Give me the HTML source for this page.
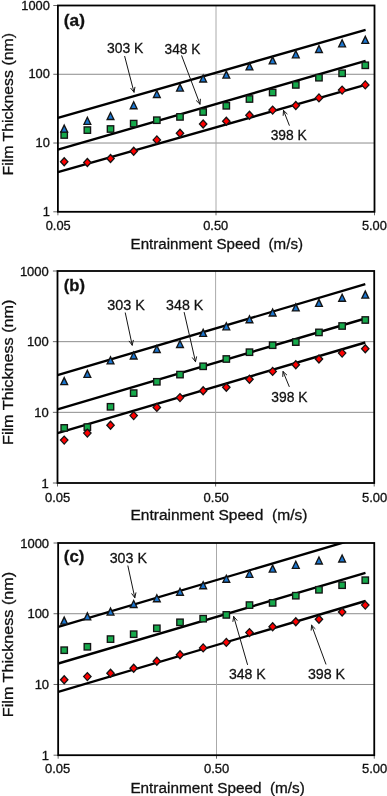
<!DOCTYPE html>
<html lang="en"><head><meta charset="utf-8"><title>Film thickness vs entrainment speed</title>
<style>html,body{margin:0;padding:0;background:#fff}svg{display:block}text{stroke:#111;stroke-width:.3px}</style></head>
<body>
<svg width="387" height="796" viewBox="0 0 387 796" font-family="'Liberation Sans', sans-serif" fill="#111">
<rect x="0" y="0" width="387" height="796" fill="#fff"/>
<g id="chart-a">
<line x1="57.9" y1="74.27" x2="374.5" y2="74.27" stroke="#8c8c8c" stroke-width="1"/>
<line x1="57.9" y1="143.03" x2="374.5" y2="143.03" stroke="#8c8c8c" stroke-width="1"/>
<line x1="216" y1="5.5" x2="216" y2="211.8" stroke="#aaaaaa" stroke-width="1"/>
<line x1="53.3" y1="5.50" x2="57.9" y2="5.50" stroke="#555" stroke-width="0.9"/>
<line x1="53.3" y1="74.27" x2="57.9" y2="74.27" stroke="#555" stroke-width="0.9"/>
<line x1="53.3" y1="143.03" x2="57.9" y2="143.03" stroke="#555" stroke-width="0.9"/>
<line x1="53.3" y1="211.80" x2="57.9" y2="211.80" stroke="#555" stroke-width="0.9"/>
<line x1="57.9" y1="211.8" x2="57.9" y2="215.3" stroke="#555" stroke-width="0.9"/>
<line x1="216" y1="211.8" x2="216" y2="215.3" stroke="#555" stroke-width="0.9"/>
<line x1="374.5" y1="211.8" x2="374.5" y2="215.3" stroke="#555" stroke-width="0.9"/>
<clipPath id="clip-a"><rect x="57.9" y="5.5" width="316.6" height="206.3"/></clipPath>
<g clip-path="url(#clip-a)">
<line x1="57.9" y1="117.9" x2="365.6" y2="29.9" stroke="#000" stroke-width="2.35"/>
<line x1="57.9" y1="149.6" x2="365.6" y2="60.9" stroke="#000" stroke-width="2.35"/>
<line x1="57.9" y1="172.2" x2="365.4" y2="84.9" stroke="#000" stroke-width="2.35"/>
</g>
<rect x="57.9" y="5.5" width="316.6" height="206.3" fill="none" stroke="#000" stroke-width="1.8"/>
<rect x="61.00" y="131.80" width="6.4" height="6.4" fill="#16a94b" stroke="#141414" stroke-width="1.35"/>
<rect x="84.16" y="126.90" width="6.4" height="6.4" fill="#16a94b" stroke="#141414" stroke-width="1.35"/>
<rect x="107.32" y="125.80" width="6.4" height="6.4" fill="#16a94b" stroke="#141414" stroke-width="1.35"/>
<rect x="130.48" y="120.40" width="6.4" height="6.4" fill="#16a94b" stroke="#141414" stroke-width="1.35"/>
<rect x="153.64" y="117.00" width="6.4" height="6.4" fill="#16a94b" stroke="#141414" stroke-width="1.35"/>
<rect x="176.80" y="113.70" width="6.4" height="6.4" fill="#16a94b" stroke="#141414" stroke-width="1.35"/>
<rect x="199.96" y="108.80" width="6.4" height="6.4" fill="#16a94b" stroke="#141414" stroke-width="1.35"/>
<rect x="223.12" y="102.60" width="6.4" height="6.4" fill="#16a94b" stroke="#141414" stroke-width="1.35"/>
<rect x="246.28" y="95.80" width="6.4" height="6.4" fill="#16a94b" stroke="#141414" stroke-width="1.35"/>
<rect x="269.44" y="89.30" width="6.4" height="6.4" fill="#16a94b" stroke="#141414" stroke-width="1.35"/>
<rect x="292.60" y="81.70" width="6.4" height="6.4" fill="#16a94b" stroke="#141414" stroke-width="1.35"/>
<rect x="315.76" y="74.50" width="6.4" height="6.4" fill="#16a94b" stroke="#141414" stroke-width="1.35"/>
<rect x="338.92" y="70.10" width="6.4" height="6.4" fill="#16a94b" stroke="#141414" stroke-width="1.35"/>
<rect x="362.08" y="62.10" width="6.4" height="6.4" fill="#16a94b" stroke="#141414" stroke-width="1.35"/>
<polygon points="64.20,125.10 67.60,132.10 60.80,132.10" fill="#1b76d0" stroke="#141414" stroke-width="1.35" stroke-linejoin="miter"/>
<polygon points="87.36,117.30 90.76,124.30 83.96,124.30" fill="#1b76d0" stroke="#141414" stroke-width="1.35" stroke-linejoin="miter"/>
<polygon points="110.52,112.50 113.92,119.50 107.12,119.50" fill="#1b76d0" stroke="#141414" stroke-width="1.35" stroke-linejoin="miter"/>
<polygon points="133.68,101.70 137.08,108.70 130.28,108.70" fill="#1b76d0" stroke="#141414" stroke-width="1.35" stroke-linejoin="miter"/>
<polygon points="156.84,90.50 160.24,97.50 153.44,97.50" fill="#1b76d0" stroke="#141414" stroke-width="1.35" stroke-linejoin="miter"/>
<polygon points="180.00,84.10 183.40,91.10 176.60,91.10" fill="#1b76d0" stroke="#141414" stroke-width="1.35" stroke-linejoin="miter"/>
<polygon points="203.16,75.00 206.56,82.00 199.76,82.00" fill="#1b76d0" stroke="#141414" stroke-width="1.35" stroke-linejoin="miter"/>
<polygon points="226.32,71.10 229.72,78.10 222.92,78.10" fill="#1b76d0" stroke="#141414" stroke-width="1.35" stroke-linejoin="miter"/>
<polygon points="249.48,62.90 252.88,69.90 246.08,69.90" fill="#1b76d0" stroke="#141414" stroke-width="1.35" stroke-linejoin="miter"/>
<polygon points="272.64,56.90 276.04,63.90 269.24,63.90" fill="#1b76d0" stroke="#141414" stroke-width="1.35" stroke-linejoin="miter"/>
<polygon points="295.80,50.80 299.20,57.80 292.40,57.80" fill="#1b76d0" stroke="#141414" stroke-width="1.35" stroke-linejoin="miter"/>
<polygon points="318.96,45.50 322.36,52.50 315.56,52.50" fill="#1b76d0" stroke="#141414" stroke-width="1.35" stroke-linejoin="miter"/>
<polygon points="342.12,39.80 345.52,46.80 338.72,46.80" fill="#1b76d0" stroke="#141414" stroke-width="1.35" stroke-linejoin="miter"/>
<polygon points="365.28,36.40 368.68,43.40 361.88,43.40" fill="#1b76d0" stroke="#141414" stroke-width="1.35" stroke-linejoin="miter"/>
<polygon points="64.20,157.70 67.90,161.70 64.20,165.70 60.50,161.70" fill="#ff0000" stroke="#141414" stroke-width="1.3"/>
<polygon points="87.36,158.50 91.06,162.50 87.36,166.50 83.66,162.50" fill="#ff0000" stroke="#141414" stroke-width="1.3"/>
<polygon points="110.52,154.50 114.22,158.50 110.52,162.50 106.82,158.50" fill="#ff0000" stroke="#141414" stroke-width="1.3"/>
<polygon points="133.68,147.20 137.38,151.20 133.68,155.20 129.98,151.20" fill="#ff0000" stroke="#141414" stroke-width="1.3"/>
<polygon points="156.84,135.90 160.54,139.90 156.84,143.90 153.14,139.90" fill="#ff0000" stroke="#141414" stroke-width="1.3"/>
<polygon points="180.00,129.20 183.70,133.20 180.00,137.20 176.30,133.20" fill="#ff0000" stroke="#141414" stroke-width="1.3"/>
<polygon points="203.16,120.00 206.86,124.00 203.16,128.00 199.46,124.00" fill="#ff0000" stroke="#141414" stroke-width="1.3"/>
<polygon points="226.32,117.30 230.02,121.30 226.32,125.30 222.62,121.30" fill="#ff0000" stroke="#141414" stroke-width="1.3"/>
<polygon points="249.48,111.30 253.18,115.30 249.48,119.30 245.78,115.30" fill="#ff0000" stroke="#141414" stroke-width="1.3"/>
<polygon points="272.64,106.10 276.34,110.10 272.64,114.10 268.94,110.10" fill="#ff0000" stroke="#141414" stroke-width="1.3"/>
<polygon points="295.80,101.50 299.50,105.50 295.80,109.50 292.10,105.50" fill="#ff0000" stroke="#141414" stroke-width="1.3"/>
<polygon points="318.96,93.90 322.66,97.90 318.96,101.90 315.26,97.90" fill="#ff0000" stroke="#141414" stroke-width="1.3"/>
<polygon points="342.12,86.10 345.82,90.10 342.12,94.10 338.42,90.10" fill="#ff0000" stroke="#141414" stroke-width="1.3"/>
<polygon points="365.28,80.90 368.98,84.90 365.28,88.90 361.58,84.90" fill="#ff0000" stroke="#141414" stroke-width="1.3"/>
<path d="M124.7 56.4 L134 92.2 M130.82 88.35 L134 92.2 L134.91 87.28" fill="none" stroke="#151515" stroke-width="1.0" stroke-linecap="round" stroke-linejoin="round"/>
<path d="M181.7 55.8 L200 104.2 M196.42 100.71 L200 104.2 L200.37 99.21" fill="none" stroke="#151515" stroke-width="1.0" stroke-linecap="round" stroke-linejoin="round"/>
<path d="M289.3 125.3 L283.5 110.4 M287.11 113.86 L283.5 110.4 L283.17 115.39" fill="none" stroke="#151515" stroke-width="1.0" stroke-linecap="round" stroke-linejoin="round"/>
<text x="106.9" y="53.3" font-size="15.5" textLength="36.4" lengthAdjust="spacingAndGlyphs">303 K</text>
<text x="164.6" y="53.5" font-size="15.5" textLength="35.7" lengthAdjust="spacingAndGlyphs">348 K</text>
<text x="270.7" y="139.8" font-size="15.5" textLength="36.1" lengthAdjust="spacingAndGlyphs">398 K</text>
<text x="63.8" y="25.8" font-size="16.5" font-weight="bold" textLength="21.1" lengthAdjust="spacingAndGlyphs">(a)</text>
<text transform="translate(49.8,9.70) scale(1.07,1)" font-size="12" text-anchor="end">1000</text>
<text transform="translate(49.8,78.47) scale(1.07,1)" font-size="12" text-anchor="end">100</text>
<text transform="translate(49.8,147.23) scale(1.07,1)" font-size="12" text-anchor="end">10</text>
<text transform="translate(49.8,216.00) scale(1.07,1)" font-size="12" text-anchor="end">1</text>
<text transform="translate(58.2,230.2) scale(1.07,1)" font-size="12" text-anchor="middle">0.05</text>
<text transform="translate(215.7,230.2) scale(1.07,1)" font-size="12" text-anchor="middle">0.50</text>
<text transform="translate(374.4,230.2) scale(1.07,1)" font-size="12" text-anchor="middle">5.00</text>
<text x="130.6" y="249" font-size="15.2" textLength="172.4" lengthAdjust="spacingAndGlyphs" xml:space="preserve" style="white-space:pre">Entrainment Speed  (m/s)</text>
<text transform="translate(13.0,175.5) rotate(-90)" font-size="15.2" textLength="142.5" lengthAdjust="spacingAndGlyphs">Film Thickness (nm)</text>
</g>
<g id="chart-b">
<line x1="57.5" y1="341.67" x2="374.2" y2="341.67" stroke="#8c8c8c" stroke-width="1"/>
<line x1="57.5" y1="412.33" x2="374.2" y2="412.33" stroke="#8c8c8c" stroke-width="1"/>
<line x1="215.6" y1="271" x2="215.6" y2="483.0" stroke="#aaaaaa" stroke-width="1"/>
<line x1="52.9" y1="271.00" x2="57.5" y2="271.00" stroke="#555" stroke-width="0.9"/>
<line x1="52.9" y1="341.67" x2="57.5" y2="341.67" stroke="#555" stroke-width="0.9"/>
<line x1="52.9" y1="412.33" x2="57.5" y2="412.33" stroke="#555" stroke-width="0.9"/>
<line x1="52.9" y1="483.00" x2="57.5" y2="483.00" stroke="#555" stroke-width="0.9"/>
<line x1="57.5" y1="483.0" x2="57.5" y2="486.5" stroke="#555" stroke-width="0.9"/>
<line x1="215.6" y1="483.0" x2="215.6" y2="486.5" stroke="#555" stroke-width="0.9"/>
<line x1="374.2" y1="483.0" x2="374.2" y2="486.5" stroke="#555" stroke-width="0.9"/>
<clipPath id="clip-b"><rect x="57.5" y="271" width="316.7" height="212.0"/></clipPath>
<g clip-path="url(#clip-b)">
<line x1="57.5" y1="375.2" x2="365.3" y2="284.2" stroke="#000" stroke-width="2.35"/>
<line x1="57.5" y1="409.3" x2="365.3" y2="318.5" stroke="#000" stroke-width="2.35"/>
<line x1="57.5" y1="433.1" x2="365.3" y2="342.5" stroke="#000" stroke-width="2.35"/>
</g>
<rect x="57.5" y="271" width="316.7" height="212.0" fill="none" stroke="#000" stroke-width="1.8"/>
<rect x="61.00" y="424.70" width="6.4" height="6.4" fill="#16a94b" stroke="#141414" stroke-width="1.35"/>
<rect x="84.16" y="423.90" width="6.4" height="6.4" fill="#16a94b" stroke="#141414" stroke-width="1.35"/>
<rect x="107.32" y="403.60" width="6.4" height="6.4" fill="#16a94b" stroke="#141414" stroke-width="1.35"/>
<rect x="130.48" y="389.90" width="6.4" height="6.4" fill="#16a94b" stroke="#141414" stroke-width="1.35"/>
<rect x="153.64" y="378.60" width="6.4" height="6.4" fill="#16a94b" stroke="#141414" stroke-width="1.35"/>
<rect x="176.80" y="371.40" width="6.4" height="6.4" fill="#16a94b" stroke="#141414" stroke-width="1.35"/>
<rect x="199.96" y="363.10" width="6.4" height="6.4" fill="#16a94b" stroke="#141414" stroke-width="1.35"/>
<rect x="223.12" y="355.80" width="6.4" height="6.4" fill="#16a94b" stroke="#141414" stroke-width="1.35"/>
<rect x="246.28" y="349.00" width="6.4" height="6.4" fill="#16a94b" stroke="#141414" stroke-width="1.35"/>
<rect x="269.44" y="342.00" width="6.4" height="6.4" fill="#16a94b" stroke="#141414" stroke-width="1.35"/>
<rect x="292.60" y="338.90" width="6.4" height="6.4" fill="#16a94b" stroke="#141414" stroke-width="1.35"/>
<rect x="315.76" y="329.20" width="6.4" height="6.4" fill="#16a94b" stroke="#141414" stroke-width="1.35"/>
<rect x="338.92" y="322.80" width="6.4" height="6.4" fill="#16a94b" stroke="#141414" stroke-width="1.35"/>
<rect x="362.08" y="316.80" width="6.4" height="6.4" fill="#16a94b" stroke="#141414" stroke-width="1.35"/>
<polygon points="64.20,377.60 67.60,384.60 60.80,384.60" fill="#1b76d0" stroke="#141414" stroke-width="1.35" stroke-linejoin="miter"/>
<polygon points="87.36,370.40 90.76,377.40 83.96,377.40" fill="#1b76d0" stroke="#141414" stroke-width="1.35" stroke-linejoin="miter"/>
<polygon points="110.52,356.90 113.92,363.90 107.12,363.90" fill="#1b76d0" stroke="#141414" stroke-width="1.35" stroke-linejoin="miter"/>
<polygon points="133.68,352.00 137.08,359.00 130.28,359.00" fill="#1b76d0" stroke="#141414" stroke-width="1.35" stroke-linejoin="miter"/>
<polygon points="156.84,345.50 160.24,352.50 153.44,352.50" fill="#1b76d0" stroke="#141414" stroke-width="1.35" stroke-linejoin="miter"/>
<polygon points="180.00,340.50 183.40,347.50 176.60,347.50" fill="#1b76d0" stroke="#141414" stroke-width="1.35" stroke-linejoin="miter"/>
<polygon points="203.16,329.40 206.56,336.40 199.76,336.40" fill="#1b76d0" stroke="#141414" stroke-width="1.35" stroke-linejoin="miter"/>
<polygon points="226.32,322.80 229.72,329.80 222.92,329.80" fill="#1b76d0" stroke="#141414" stroke-width="1.35" stroke-linejoin="miter"/>
<polygon points="249.48,315.70 252.88,322.70 246.08,322.70" fill="#1b76d0" stroke="#141414" stroke-width="1.35" stroke-linejoin="miter"/>
<polygon points="272.64,309.00 276.04,316.00 269.24,316.00" fill="#1b76d0" stroke="#141414" stroke-width="1.35" stroke-linejoin="miter"/>
<polygon points="295.80,303.90 299.20,310.90 292.40,310.90" fill="#1b76d0" stroke="#141414" stroke-width="1.35" stroke-linejoin="miter"/>
<polygon points="318.96,299.40 322.36,306.40 315.56,306.40" fill="#1b76d0" stroke="#141414" stroke-width="1.35" stroke-linejoin="miter"/>
<polygon points="342.12,294.20 345.52,301.20 338.72,301.20" fill="#1b76d0" stroke="#141414" stroke-width="1.35" stroke-linejoin="miter"/>
<polygon points="365.28,291.10 368.68,298.10 361.88,298.10" fill="#1b76d0" stroke="#141414" stroke-width="1.35" stroke-linejoin="miter"/>
<polygon points="64.20,436.10 67.90,440.10 64.20,444.10 60.50,440.10" fill="#ff0000" stroke="#141414" stroke-width="1.3"/>
<polygon points="87.36,429.10 91.06,433.10 87.36,437.10 83.66,433.10" fill="#ff0000" stroke="#141414" stroke-width="1.3"/>
<polygon points="110.52,421.20 114.22,425.20 110.52,429.20 106.82,425.20" fill="#ff0000" stroke="#141414" stroke-width="1.3"/>
<polygon points="133.68,411.60 137.38,415.60 133.68,419.60 129.98,415.60" fill="#ff0000" stroke="#141414" stroke-width="1.3"/>
<polygon points="156.84,403.40 160.54,407.40 156.84,411.40 153.14,407.40" fill="#ff0000" stroke="#141414" stroke-width="1.3"/>
<polygon points="180.00,393.60 183.70,397.60 180.00,401.60 176.30,397.60" fill="#ff0000" stroke="#141414" stroke-width="1.3"/>
<polygon points="203.16,386.80 206.86,390.80 203.16,394.80 199.46,390.80" fill="#ff0000" stroke="#141414" stroke-width="1.3"/>
<polygon points="226.32,383.20 230.02,387.20 226.32,391.20 222.62,387.20" fill="#ff0000" stroke="#141414" stroke-width="1.3"/>
<polygon points="249.48,375.20 253.18,379.20 249.48,383.20 245.78,379.20" fill="#ff0000" stroke="#141414" stroke-width="1.3"/>
<polygon points="272.64,367.40 276.34,371.40 272.64,375.40 268.94,371.40" fill="#ff0000" stroke="#141414" stroke-width="1.3"/>
<polygon points="295.80,360.80 299.50,364.80 295.80,368.80 292.10,364.80" fill="#ff0000" stroke="#141414" stroke-width="1.3"/>
<polygon points="318.96,355.00 322.66,359.00 318.96,363.00 315.26,359.00" fill="#ff0000" stroke="#141414" stroke-width="1.3"/>
<polygon points="342.12,349.10 345.82,353.10 342.12,357.10 338.42,353.10" fill="#ff0000" stroke="#141414" stroke-width="1.3"/>
<polygon points="365.28,344.70 368.98,348.70 365.28,352.70 361.58,348.70" fill="#ff0000" stroke="#141414" stroke-width="1.3"/>
<path d="M125.3 312.9 L132.2 345.2 M129.19 341.21 L132.2 345.2 L133.32 340.33" fill="none" stroke="#151515" stroke-width="1.0" stroke-linecap="round" stroke-linejoin="round"/>
<path d="M184.2 312.5 L195.5 361.7 M192.43 357.76 L195.5 361.7 L196.55 356.81" fill="none" stroke="#151515" stroke-width="1.0" stroke-linecap="round" stroke-linejoin="round"/>
<path d="M289.2 386.5 L283 371.5 M286.68 374.88 L283 371.5 L282.78 376.50" fill="none" stroke="#151515" stroke-width="1.0" stroke-linecap="round" stroke-linejoin="round"/>
<text x="107.2" y="309.8" font-size="15.5" textLength="37.6" lengthAdjust="spacingAndGlyphs">303 K</text>
<text x="166.1" y="309.8" font-size="15.5" textLength="37.1" lengthAdjust="spacingAndGlyphs">348 K</text>
<text x="271.3" y="401.5" font-size="15.5" textLength="36.2" lengthAdjust="spacingAndGlyphs">398 K</text>
<text x="63.8" y="290.5" font-size="16.5" font-weight="bold" textLength="21.2" lengthAdjust="spacingAndGlyphs">(b)</text>
<text transform="translate(48.8,275.50) scale(1.075,1)" font-size="12.1" text-anchor="end">1000</text>
<text transform="translate(48.8,346.17) scale(1.075,1)" font-size="12.1" text-anchor="end">100</text>
<text transform="translate(48.8,416.83) scale(1.075,1)" font-size="12.1" text-anchor="end">10</text>
<text transform="translate(48.8,487.50) scale(1.075,1)" font-size="12.1" text-anchor="end">1</text>
<text transform="translate(57.6,501.7) scale(1.075,1)" font-size="12.1" text-anchor="middle">0.05</text>
<text transform="translate(216.2,501.7) scale(1.075,1)" font-size="12.1" text-anchor="middle">0.50</text>
<text transform="translate(374.6,501.7) scale(1.075,1)" font-size="12.1" text-anchor="middle">5.00</text>
<text x="130.4" y="520.4" font-size="15.2" textLength="177.0" lengthAdjust="spacingAndGlyphs" xml:space="preserve" style="white-space:pre">Entrainment Speed  (m/s)</text>
<text transform="translate(13.3,445) rotate(-90)" font-size="15.2" textLength="145.5" lengthAdjust="spacingAndGlyphs">Film Thickness (nm)</text>
</g>
<g id="chart-c">
<line x1="58.15" y1="613.73" x2="374.25" y2="613.73" stroke="#8c8c8c" stroke-width="1"/>
<line x1="58.15" y1="684.47" x2="374.25" y2="684.47" stroke="#8c8c8c" stroke-width="1"/>
<line x1="216.5" y1="543.0" x2="216.5" y2="755.2" stroke="#aaaaaa" stroke-width="1"/>
<line x1="53.55" y1="543.00" x2="58.15" y2="543.00" stroke="#555" stroke-width="0.9"/>
<line x1="53.55" y1="613.73" x2="58.15" y2="613.73" stroke="#555" stroke-width="0.9"/>
<line x1="53.55" y1="684.47" x2="58.15" y2="684.47" stroke="#555" stroke-width="0.9"/>
<line x1="53.55" y1="755.20" x2="58.15" y2="755.20" stroke="#555" stroke-width="0.9"/>
<line x1="58.15" y1="755.2" x2="58.15" y2="758.7" stroke="#555" stroke-width="0.9"/>
<line x1="216.5" y1="755.2" x2="216.5" y2="758.7" stroke="#555" stroke-width="0.9"/>
<line x1="374.25" y1="755.2" x2="374.25" y2="758.7" stroke="#555" stroke-width="0.9"/>
<clipPath id="clip-c"><rect x="58.15" y="543.0" width="316.1" height="212.20000000000005"/></clipPath>
<g clip-path="url(#clip-c)">
<line x1="58.2" y1="626.9" x2="365.5" y2="536.0" stroke="#000" stroke-width="2.35"/>
<line x1="58.2" y1="663.5" x2="365.5" y2="572.9" stroke="#000" stroke-width="2.35"/>
<line x1="58.2" y1="691.9" x2="365.5" y2="601.0" stroke="#000" stroke-width="2.35"/>
</g>
<rect x="58.15" y="543.0" width="316.1" height="212.20000000000005" fill="none" stroke="#000" stroke-width="1.8"/>
<rect x="61.00" y="647.00" width="6.4" height="6.4" fill="#16a94b" stroke="#141414" stroke-width="1.35"/>
<rect x="84.16" y="643.60" width="6.4" height="6.4" fill="#16a94b" stroke="#141414" stroke-width="1.35"/>
<rect x="107.32" y="635.90" width="6.4" height="6.4" fill="#16a94b" stroke="#141414" stroke-width="1.35"/>
<rect x="130.48" y="631.00" width="6.4" height="6.4" fill="#16a94b" stroke="#141414" stroke-width="1.35"/>
<rect x="153.64" y="625.10" width="6.4" height="6.4" fill="#16a94b" stroke="#141414" stroke-width="1.35"/>
<rect x="176.80" y="619.10" width="6.4" height="6.4" fill="#16a94b" stroke="#141414" stroke-width="1.35"/>
<rect x="199.96" y="615.50" width="6.4" height="6.4" fill="#16a94b" stroke="#141414" stroke-width="1.35"/>
<rect x="223.12" y="611.70" width="6.4" height="6.4" fill="#16a94b" stroke="#141414" stroke-width="1.35"/>
<rect x="246.28" y="601.90" width="6.4" height="6.4" fill="#16a94b" stroke="#141414" stroke-width="1.35"/>
<rect x="269.44" y="599.70" width="6.4" height="6.4" fill="#16a94b" stroke="#141414" stroke-width="1.35"/>
<rect x="292.60" y="592.50" width="6.4" height="6.4" fill="#16a94b" stroke="#141414" stroke-width="1.35"/>
<rect x="315.76" y="586.60" width="6.4" height="6.4" fill="#16a94b" stroke="#141414" stroke-width="1.35"/>
<rect x="338.92" y="582.00" width="6.4" height="6.4" fill="#16a94b" stroke="#141414" stroke-width="1.35"/>
<rect x="362.08" y="577.00" width="6.4" height="6.4" fill="#16a94b" stroke="#141414" stroke-width="1.35"/>
<polygon points="64.20,617.10 67.60,624.10 60.80,624.10" fill="#1b76d0" stroke="#141414" stroke-width="1.35" stroke-linejoin="miter"/>
<polygon points="87.36,612.90 90.76,619.90 83.96,619.90" fill="#1b76d0" stroke="#141414" stroke-width="1.35" stroke-linejoin="miter"/>
<polygon points="110.52,608.10 113.92,615.10 107.12,615.10" fill="#1b76d0" stroke="#141414" stroke-width="1.35" stroke-linejoin="miter"/>
<polygon points="133.68,600.50 137.08,607.50 130.28,607.50" fill="#1b76d0" stroke="#141414" stroke-width="1.35" stroke-linejoin="miter"/>
<polygon points="156.84,594.70 160.24,601.70 153.44,601.70" fill="#1b76d0" stroke="#141414" stroke-width="1.35" stroke-linejoin="miter"/>
<polygon points="180.00,588.20 183.40,595.20 176.60,595.20" fill="#1b76d0" stroke="#141414" stroke-width="1.35" stroke-linejoin="miter"/>
<polygon points="203.16,581.70 206.56,588.70 199.76,588.70" fill="#1b76d0" stroke="#141414" stroke-width="1.35" stroke-linejoin="miter"/>
<polygon points="226.32,575.20 229.72,582.20 222.92,582.20" fill="#1b76d0" stroke="#141414" stroke-width="1.35" stroke-linejoin="miter"/>
<polygon points="249.48,570.30 252.88,577.30 246.08,577.30" fill="#1b76d0" stroke="#141414" stroke-width="1.35" stroke-linejoin="miter"/>
<polygon points="272.64,565.10 276.04,572.10 269.24,572.10" fill="#1b76d0" stroke="#141414" stroke-width="1.35" stroke-linejoin="miter"/>
<polygon points="295.80,561.30 299.20,568.30 292.40,568.30" fill="#1b76d0" stroke="#141414" stroke-width="1.35" stroke-linejoin="miter"/>
<polygon points="318.96,557.00 322.36,564.00 315.56,564.00" fill="#1b76d0" stroke="#141414" stroke-width="1.35" stroke-linejoin="miter"/>
<polygon points="342.12,555.00 345.52,562.00 338.72,562.00" fill="#1b76d0" stroke="#141414" stroke-width="1.35" stroke-linejoin="miter"/>
<polygon points="64.20,675.70 67.90,679.70 64.20,683.70 60.50,679.70" fill="#ff0000" stroke="#141414" stroke-width="1.3"/>
<polygon points="87.36,672.60 91.06,676.60 87.36,680.60 83.66,676.60" fill="#ff0000" stroke="#141414" stroke-width="1.3"/>
<polygon points="110.52,669.20 114.22,673.20 110.52,677.20 106.82,673.20" fill="#ff0000" stroke="#141414" stroke-width="1.3"/>
<polygon points="133.68,664.20 137.38,668.20 133.68,672.20 129.98,668.20" fill="#ff0000" stroke="#141414" stroke-width="1.3"/>
<polygon points="156.84,657.20 160.54,661.20 156.84,665.20 153.14,661.20" fill="#ff0000" stroke="#141414" stroke-width="1.3"/>
<polygon points="180.00,650.80 183.70,654.80 180.00,658.80 176.30,654.80" fill="#ff0000" stroke="#141414" stroke-width="1.3"/>
<polygon points="203.16,643.90 206.86,647.90 203.16,651.90 199.46,647.90" fill="#ff0000" stroke="#141414" stroke-width="1.3"/>
<polygon points="226.32,638.40 230.02,642.40 226.32,646.40 222.62,642.40" fill="#ff0000" stroke="#141414" stroke-width="1.3"/>
<polygon points="249.48,628.60 253.18,632.60 249.48,636.60 245.78,632.60" fill="#ff0000" stroke="#141414" stroke-width="1.3"/>
<polygon points="272.64,622.80 276.34,626.80 272.64,630.80 268.94,626.80" fill="#ff0000" stroke="#141414" stroke-width="1.3"/>
<polygon points="295.80,617.80 299.50,621.80 295.80,625.80 292.10,621.80" fill="#ff0000" stroke="#141414" stroke-width="1.3"/>
<polygon points="318.96,615.30 322.66,619.30 318.96,623.30 315.26,619.30" fill="#ff0000" stroke="#141414" stroke-width="1.3"/>
<polygon points="342.12,608.00 345.82,612.00 342.12,616.00 338.42,612.00" fill="#ff0000" stroke="#141414" stroke-width="1.3"/>
<polygon points="365.28,601.10 368.98,605.10 365.28,609.10 361.58,605.10" fill="#ff0000" stroke="#141414" stroke-width="1.3"/>
<path d="M127.9 565.9 L134.8 597.7 M131.77 593.72 L134.8 597.7 L135.90 592.82" fill="none" stroke="#151515" stroke-width="1.0" stroke-linecap="round" stroke-linejoin="round"/>
<path d="M247.5 664.5 L233.7 616.5 M236.98 620.27 L233.7 616.5 L232.92 621.44" fill="none" stroke="#151515" stroke-width="1.0" stroke-linecap="round" stroke-linejoin="round"/>
<path d="M325.9 664.1 L311.6 625.2 M315.15 628.72 L311.6 625.2 L311.18 630.18" fill="none" stroke="#151515" stroke-width="1.0" stroke-linecap="round" stroke-linejoin="round"/>
<text x="109.7" y="562.5" font-size="15.5" textLength="37.2" lengthAdjust="spacingAndGlyphs">303 K</text>
<text x="228.9" y="678.6" font-size="15.5" textLength="36.8" lengthAdjust="spacingAndGlyphs">348 K</text>
<text x="307.9" y="678.6" font-size="15.5" textLength="37.2" lengthAdjust="spacingAndGlyphs">398 K</text>
<text x="63.8" y="561.9" font-size="16.5" font-weight="bold" textLength="20.6" lengthAdjust="spacingAndGlyphs">(c)</text>
<text transform="translate(49.1,547.70) scale(1.075,1)" font-size="12.1" text-anchor="end">1000</text>
<text transform="translate(49.1,618.43) scale(1.075,1)" font-size="12.1" text-anchor="end">100</text>
<text transform="translate(49.1,689.17) scale(1.075,1)" font-size="12.1" text-anchor="end">10</text>
<text transform="translate(49.1,759.90) scale(1.075,1)" font-size="12.1" text-anchor="end">1</text>
<text transform="translate(57.6,773.4) scale(1.075,1)" font-size="12.1" text-anchor="middle">0.05</text>
<text transform="translate(216.6,773.4) scale(1.075,1)" font-size="12.1" text-anchor="middle">0.50</text>
<text transform="translate(374.6,773.4) scale(1.075,1)" font-size="12.1" text-anchor="middle">5.00</text>
<text x="130.4" y="793" font-size="15.2" textLength="174.4" lengthAdjust="spacingAndGlyphs" xml:space="preserve" style="white-space:pre">Entrainment Speed  (m/s)</text>
<text transform="translate(13.3,717.2) rotate(-90)" font-size="15.2" textLength="145.4" lengthAdjust="spacingAndGlyphs">Film Thickness (nm)</text>
</g>
</svg>
</body></html>
